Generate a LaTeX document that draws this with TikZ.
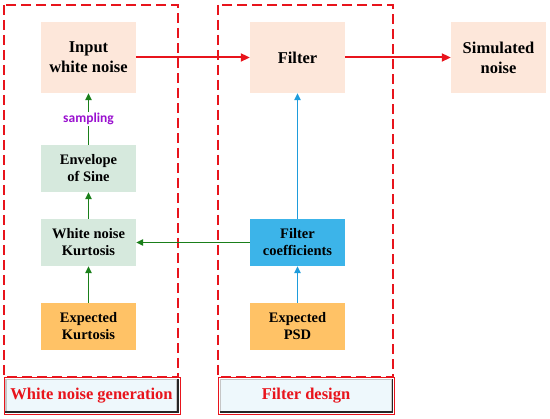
\documentclass[tikz,border=0pt]{standalone}
\usepackage{fontspec}
\setmainfont{Liberation Serif}
\newfontfamily\samplingfont{Carlito}
\usetikzlibrary{arrows.meta}

\definecolor{peach}{HTML}{FDE7DA}
\definecolor{sage}{HTML}{D6E9DD}
\definecolor{amber}{HTML}{FFC266}
\definecolor{sky}{HTML}{3CB4E9}
\definecolor{redline}{HTML}{E8141C}
\definecolor{greenline}{HTML}{1A7F1A}
\definecolor{blueline}{HTML}{1E9CDC}
\definecolor{violet}{HTML}{9A10D0}
\definecolor{labelfill}{HTML}{EEF8FC}

\tikzset{
  bigbox/.style={minimum width=95pt, minimum height=71pt, inner sep=0pt, align=center,
    font=\fontsize{16.5}{20}\selectfont\bfseries},
  smallbox/.style={minimum width=95pt, minimum height=47pt, inner sep=0pt, align=center,
    font=\fontsize{14.5}{17}\selectfont\bfseries},
  group/.style={draw=redline, line width=1.6pt, dash pattern=on 10pt off 5pt},
  redarrow/.style={draw=redline, line width=2pt, -{Triangle[length=9pt,width=8pt]}},
  greenarrow/.style={draw=greenline, line width=1.3pt, -{Triangle[length=7pt,width=6.5pt]}},
  bluearrow/.style={draw=blueline, line width=1.3pt, -{Triangle[length=7pt,width=6.5pt]}},
  grouplabel/.style={minimum width=171pt, minimum height=32pt, inner sep=0pt, fill=labelfill,
    draw=gray!45, line width=1.5pt, text=redline, font=\fontsize{16.5}{19}\selectfont\bfseries}
}

\begin{document}
\begin{tikzpicture}[x=1pt,y=-1pt]
  \useasboundingbox (0,0) rectangle (550,419);

  % dashed groups
  \draw[group] (4,5) rectangle (178,377);
  \draw[group] (218,5) rectangle (393,377);

  % group labels
  \draw[redline, line width=0.8pt] (4,377) rectangle (180,414);
  \node[grouplabel] (lblgen) at (91.5,395.5) {White noise generation};
  \draw[gray!30!black, line width=1.5pt] (lblgen.south west) -- (lblgen.south east) -- (lblgen.north east);
  \draw[redline, line width=0.8pt] (218,377) rectangle (394,414);
  \node[grouplabel] (lbldesign) at (306,395.5) {Filter design};
  \draw[gray!30!black, line width=1.5pt] (lbldesign.south west) -- (lbldesign.south east) -- (lbldesign.north east);

  % blocks
  \node[bigbox, fill=peach] (input) at (88.5,57.5) {Input\\white noise};
  \node[bigbox, fill=peach] (filter) at (297.5,57.5) {Filter};
  \node[bigbox, fill=peach] (simnoise) at (498.5,57.5) {Simulated\\noise};
  \node[smallbox, fill=sage] (envelope) at (88.5,168.5) {Envelope\\of Sine};
  \node[smallbox, fill=sage] (wnkurt) at (88.5,242.5) {White noise\\Kurtosis};
  \node[smallbox, fill=amber] (expkurt) at (88.5,326.5) {Expected\\Kurtosis};
  \node[smallbox, fill=sky] (coeffs) at (297.5,242.5) {Filter\\coefficients};
  \node[smallbox, fill=amber] (exppsd) at (297.5,326.5) {Expected\\PSD};

  % connections
  \draw[redarrow] (input) -- (filter);
  \draw[redarrow] (filter) -- (simnoise);
  \draw[bluearrow] (exppsd) -- (coeffs);
  \draw[bluearrow] (coeffs) -- (filter);
  \draw[greenarrow] (coeffs) -- (wnkurt);
  \draw[greenarrow] (expkurt) -- (wnkurt);
  \draw[greenarrow] (wnkurt) -- (envelope);
  \draw[greenarrow] (envelope) -- node[fill=white, inner sep=1pt, text=violet,
    font=\fontsize{13.5}{15}\selectfont\samplingfont\bfseries] (samplbl) {sampling} (input);

\end{tikzpicture}
\end{document}
